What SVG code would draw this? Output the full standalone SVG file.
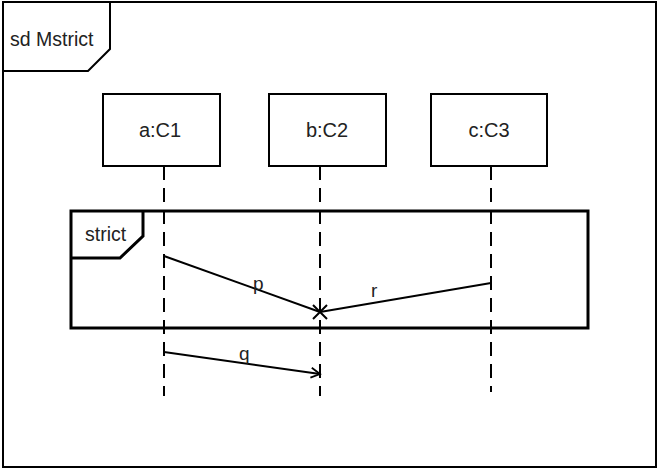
<svg xmlns="http://www.w3.org/2000/svg" width="659" height="470" viewBox="0 0 659 470">
<defs>
<style>
.frame{fill:none;stroke:#000;stroke-width:2}
.box{fill:#fff;stroke:#000;stroke-width:2}
.life{stroke:#000;stroke-width:2;stroke-dasharray:14 8;fill:none}
.msg{stroke:#000;stroke-width:2;fill:none}
.t{font-family:"Liberation Sans",Arial,sans-serif;fill:#222}
</style>
<marker id="open" markerWidth="12" markerHeight="12" refX="10" refY="6" orient="auto" markerUnits="userSpaceOnUse">
<path d="M1,1 L10,6 L1,11" fill="none" stroke="#000" stroke-width="1.8"/>
</marker>
</defs>
<rect width="659" height="470" fill="#fff"/>
<g id="frame-sd">
<rect class="frame" x="3" y="2" width="653" height="465"/>
<path class="frame" d="M3,71 L88,71 L110,49 L110,2"/>
<text class="t" x="10" y="46" font-size="19.5">sd Mstrict</text>
</g>
<g id="lifeline-a">
<rect class="box" x="103" y="94" width="117" height="72"/>
<text class="t" x="160" y="137" font-size="20" text-anchor="middle">a:C1</text>
<line class="life" x1="164" y1="166" x2="164" y2="396"/>
</g>
<g id="lifeline-b">
<rect class="box" x="269" y="94" width="117" height="72"/>
<text class="t" x="327" y="137" font-size="20" text-anchor="middle">b:C2</text>
<line class="life" x1="320" y1="166" x2="320" y2="396"/>
</g>
<g id="lifeline-c">
<rect class="box" x="431" y="94" width="116" height="72"/>
<text class="t" x="489" y="137" font-size="20" text-anchor="middle">c:C3</text>
<line class="life" x1="491" y1="166" x2="491" y2="392"/>
</g>
<g id="fragment-strict">
<rect x="71" y="211" width="517" height="117" fill="none" stroke="#000" stroke-width="3"/>
<path d="M71,258 L120,258 L143,236 L143,211" fill="none" stroke="#000" stroke-width="3"/>
<text class="t" x="85" y="241" font-size="19.5">strict</text>
</g>
<g id="connectors">
<line class="msg" x1="164" y1="256" x2="320" y2="312"/>
<line class="msg" x1="491" y1="283" x2="320" y2="312"/>
<path d="M313,305 L327,319 M313,319 L327,305" stroke="#000" stroke-width="2"/>
<text class="t" x="253" y="290" font-size="19">p</text>
<text class="t" x="371" y="297" font-size="19">r</text>
<line class="msg" x1="164" y1="352" x2="320" y2="374" marker-end="url(#open)"/>
<text class="t" x="239" y="360" font-size="19">q</text>
</g>
</svg>
